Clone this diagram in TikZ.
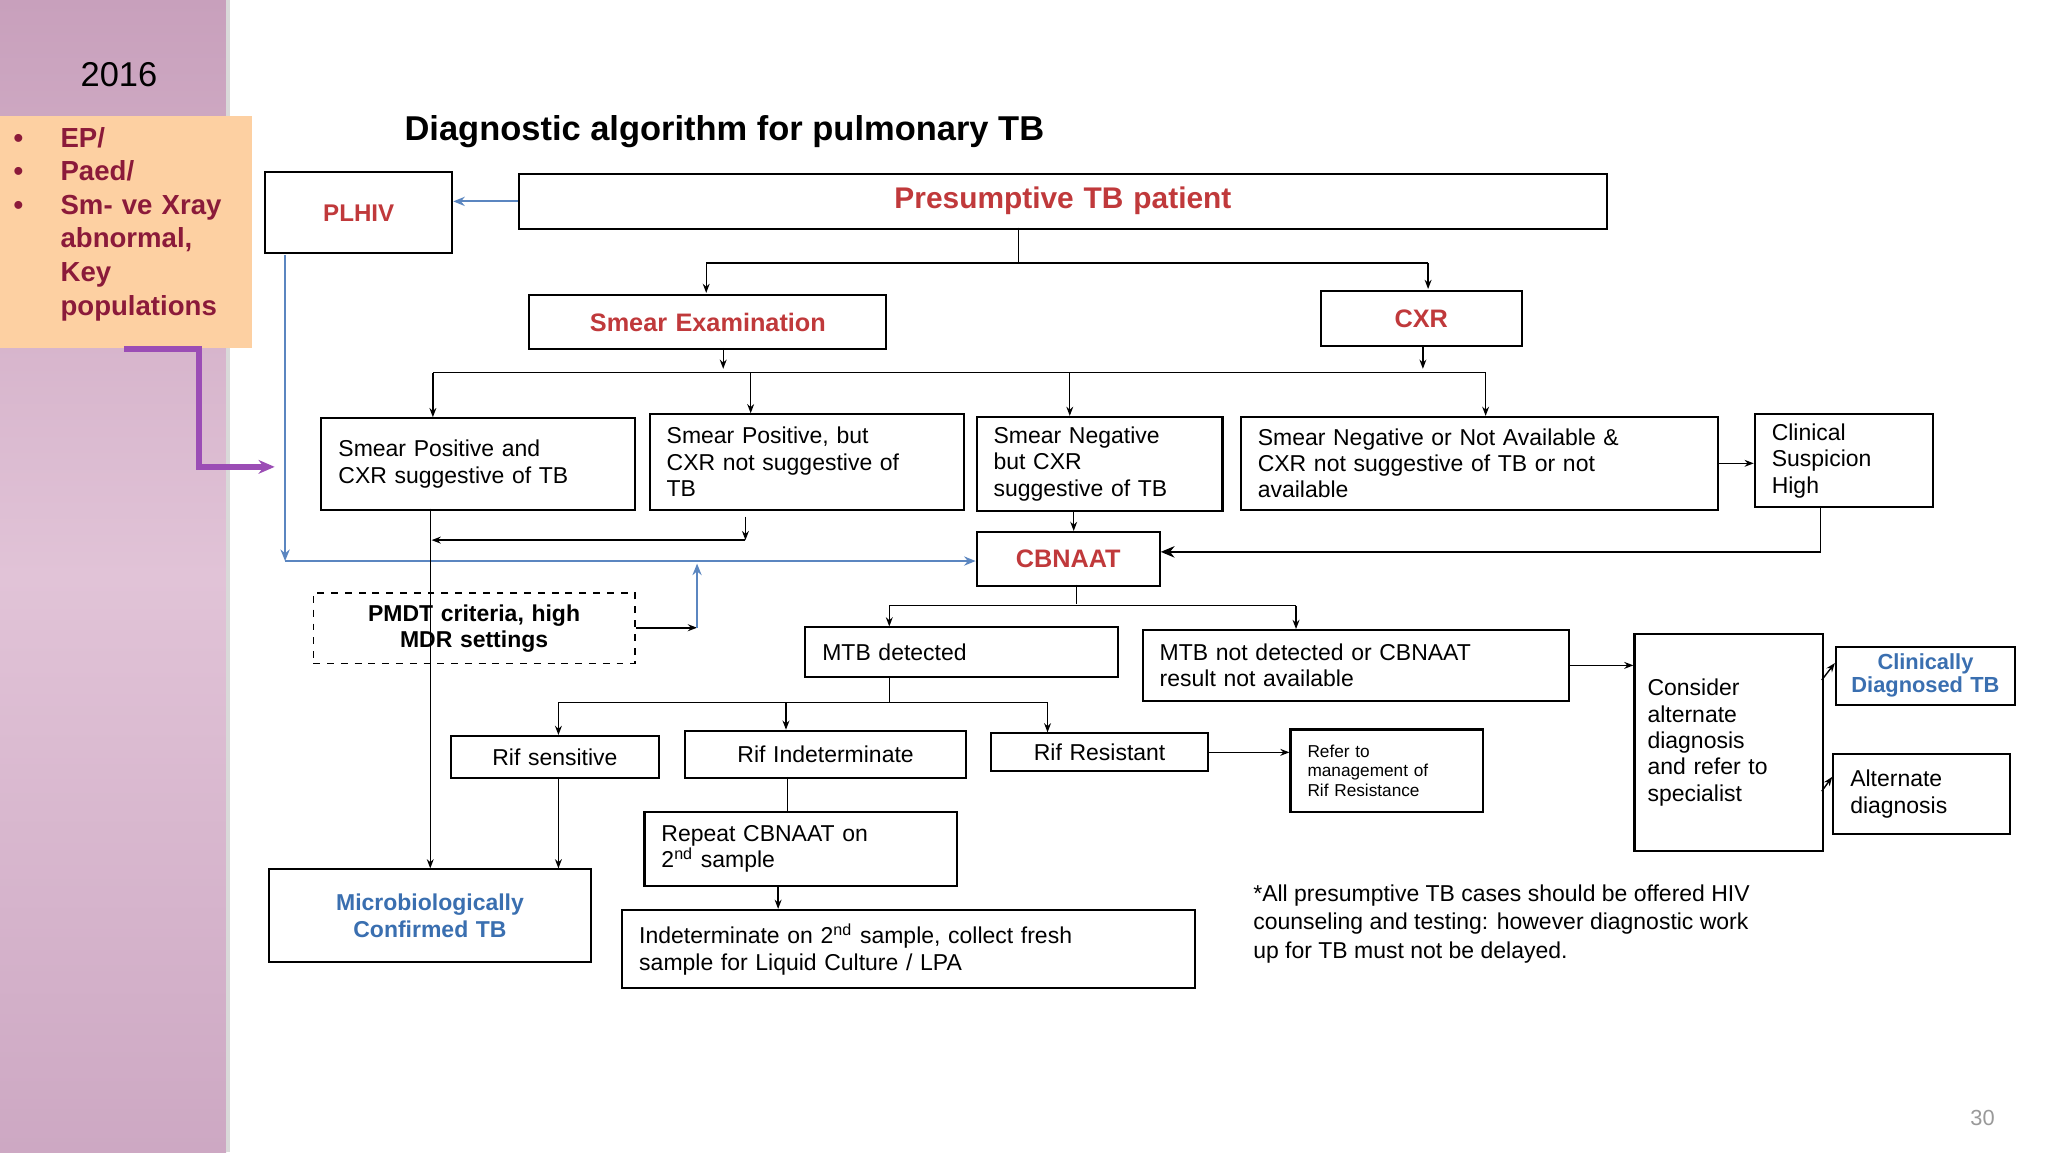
\documentclass[tikz,border=0pt]{standalone}
\usepackage{fontspec}
\setmainfont{Liberation Sans}
\usetikzlibrary{arrows.meta}
\definecolor{tbred}{HTML}{C0393B}
\definecolor{tbblue}{HTML}{3A6FB0}
\definecolor{lnblue}{HTML}{5B86C0}
\definecolor{side}{HTML}{8B1A3A}
\definecolor{orng}{HTML}{FDD0A2}
\definecolor{purp}{HTML}{9B4DB5}
\tikzset{x=0.02cm,y=-0.02cm,
 box/.style={draw,line width=0.9pt,inner xsep=0.26cm,inner ysep=1pt,align=left,font=\fontsize{10}{11.5}\selectfont},
 ar/.style={-{Stealth[length=4pt,width=3pt]},line width=0.6pt},
 bar/.style={-{Stealth[length=5pt,width=4pt]},line width=0.9pt,lnblue},
 ln/.style={line width=0.6pt}}
\newcommand\bx[7][]{\node[box,anchor=north west,minimum width={(#5-#3)*0.02cm},minimum height={(#6-#4)*0.02cm},text width={(#5-#3)*0.02cm-0.52cm},#1] (#2) at (#3,#4) {#7};}
\begin{document}
\begin{tikzpicture}
\useasboundingbox (0,0) rectangle (1566,881);
\fill[white] (0,0) rectangle (1566,881);
\shade[top color={rgb,255:red,200;green,160;blue,188},bottom color={rgb,255:red,205;green,168;blue,195},middle color={rgb,255:red,225;green,195;blue,215}] (0,0) rectangle (173,881);
\fill[black!15] (173,0) rectangle (176,881);
\node[font=\fontsize{15}{18}\selectfont] (yr) at (91,57) {2016};
\fill[orng] (0,89) rectangle (193,266);
\node[anchor=north west,align=left,text=side,font=\bfseries\fontsize{12}{14.6}\selectfont,text width=3.4cm,inner sep=0] (lst) at (10,97)
{\makebox[0.72cm][l]{•}EP/\\\makebox[0.72cm][l]{•}Paed/\\\makebox[0.72cm][l]{•}Sm- ve Xray\\\hspace*{0.72cm}abnormal,\\\hspace*{0.72cm}Key\\\hspace*{0.72cm}populations};
\coordinate (pa) at (95,267);
\coordinate (pb) at (210,357);
\draw[purp,line width=2.4pt,-{Stealth[length=7pt,width=6pt]}] (pa) -- (152,267) -- (152,357) -- (pb);
\node[anchor=west,inner sep=0,font=\bfseries\fontsize{15}{17}\selectfont] (title) at (309,101) {Diagnostic algorithm for pulmonary TB};
% boxes
\bx[align=center,text=tbred,font=\bfseries\fontsize{10.5}{12}\selectfont]{plhiv}{202}{131}{345}{193}{PLHIV}
\bx[align=center,text=tbred,font=\bfseries\fontsize{13}{14}\selectfont]{pres}{396}{132}{1228}{174}{Presumptive TB patient}
\bx[align=center,text=tbred,font=\bfseries\fontsize{11}{12}\selectfont]{smear}{404}{225}{677}{266}{Smear Examination}
\bx[align=center,text=tbred,font=\bfseries\fontsize{11}{12}\selectfont]{cxr}{1009}{222}{1163}{264}{CXR}
\bx{b1}{245}{319}{485}{389}{Smear Positive and\\CXR suggestive of TB\\[-0.9ex]}
\bx{b2}{496}{316}{736}{389}{Smear Positive, but\\CXR not suggestive of\\TB}
\bx{b3}{746}{318}{934}{390}{Smear Negative\\but CXR\\suggestive of TB}
\bx{b4}{948}{318}{1313}{389}{Smear Negative or Not Available \&\\CXR not suggestive of TB or not\\available}
\bx{clin}{1341}{316}{1477}{387}{Clinical\\Suspicion\\High}
\bx[align=center,text=tbred,font=\bfseries\fontsize{11}{12}\selectfont]{cb}{746}{406}{886}{447}{CBNAAT}
\bx[dashed,line width=0.6pt,align=center,font=\bfseries\fontsize{10}{11.5}\selectfont]{pmdt}{239}{453}{485}{507}{PMDT criteria, high\\MDR settings}
\bx{mtb}{615}{479}{854}{517}{MTB detected\\[-0.5ex]}
\bx{mtbn}{873}{481}{1199}{535}{MTB not detected or CBNAAT\\result not available}
\bx[inner xsep=0.2cm,text width={144*0.02cm-0.4cm}]{cons}{1249}{484}{1393}{650}{Consider\\alternate\\diagnosis\\and refer to\\specialist\\[10ex]}
\bx[align=center,inner xsep=1pt,text width={137*0.02cm-2pt},text=tbblue,font=\bfseries\fontsize{9.5}{10}\selectfont]{cdx}{1403}{494}{1540}{538}{Clinically\\Diagnosed TB}
\bx{alt}{1401}{576}{1536}{637}{Alternate\\diagnosis}
\bx[align=center]{rs}{344}{562}{503}{594}{Rif sensitive}
\bx[align=center]{ri}{523}{558}{738}{594}{Rif Indeterminate}
\bx[align=center]{rr}{757}{560}{923}{589}{Rif Resistant}
\bx[font=\fontsize{7.5}{8.5}\selectfont]{ref}{986}{557}{1133}{620}{Refer to\\management of\\Rif Resistance}
\bx{rep}{492}{620}{731}{677}{Repeat CBNAAT on\\2\textsuperscript{nd} sample}
\bx[align=center,text=tbblue,font=\bfseries\fontsize{10}{11.5}\selectfont]{micro}{205}{664}{451}{735}{Microbiologically\\Confirmed TB\\[-0.5ex]}
\bx{ind}{475}{695}{913}{755}{Indeterminate on 2\textsuperscript{nd} sample, collect fresh\\sample for Liquid Culture / LPA}
\node[anchor=north west,align=left,font=\fontsize{10}{12.5}\selectfont,inner sep=0] (foot) at (958,676) {*All presumptive TB cases should be offered HIV\\counseling and testing: however diagnostic work\\up for TB must not be delayed.};
\node[text=black!40,font=\fontsize{9.5}{11}\selectfont] (pg) at (1516,855) {30};
% connectors
\coordinate (pp) at (396,154);
\draw[bar] (pp) -- (plhiv.east|-pp);
\coordinate (bl) at (218,429);
\draw[bar] (218,195) -- (bl);
\draw[bar] (bl) -- (cb.west|-bl);
\coordinate (pm) at (533,480);
\draw[ar,line width=0.9pt] (pmdt.east|-pm) -- (pm);
\draw[bar,line width=0.7pt] (pm) -- (533,431);
\coordinate (j1) at (779,201);
\draw[ln] (779,174) -- (j1);
\draw[ln] (540,201) -- (1092,201);
\draw[ar] (540,201) -- (540,224);
\draw[ar] (1092,201) -- (1092,221);
\draw[ar] (553,266) -- (553,282);
\draw[ar] (1088,264) -- (1088,282);
\draw[ln] (331,285) -- (1136,285);
\draw[ar] (331,285) -- (b1.north-|331,0);
\draw[ar] (574,285) -- (b2.north-|574,0);
\draw[ar] (818,285) -- (b3.north-|818,0);
\draw[ar] (1136,285) -- (b4.north-|1136,0);
\draw[ar] (b4.east) -- (clin.west|-b4.east);
\draw[-{Stealth[length=6pt,width=5pt]},line width=0.8pt] (1392,387) -- (1392,422) -- (cb.east|-0,422);
\draw[ar] (821,390) -- (cb.north-|821,0);
\draw[ar] (570,395) -- (570,413);
\draw[ar] (570,413) -- (330,413);
\draw[ar] (329,389) -- (micro.north-|329,0);
\draw[ln] (823,447) -- (823,462);
\draw[ln] (680,463) -- (991,463);
\draw[ar] (680,463) -- (mtb.north-|680,0);
\draw[ar] (991,463) -- (mtbn.north-|991,0);
\draw[ln] (680,517) -- (680,537);
\draw[ln] (427,537) -- (801,537);
\draw[ar] (427,537) -- (rs.north-|427,0);
\draw[ar] (601,537) -- (ri.north-|601,0);
\draw[ar] (801,537) -- (rr.north-|801,0);
\draw[ar] (rr.east) -- (ref.west|-rr.east);
\draw[ar] (427,594) -- (micro.north-|427,0);
\draw[ln] (602,594) -- (rep.north-|602,0);
\draw[ar] (595,677) -- (ind.north-|595,0);
\draw[ar] (mtbn.east) -- (cons.west|-mtbn.east);
\draw[ar] (1393,520) -- (cdx.west|-0,507);
\draw[ar] (1393,605) -- (alt.west|-0,594);
\end{tikzpicture}
\end{document}
